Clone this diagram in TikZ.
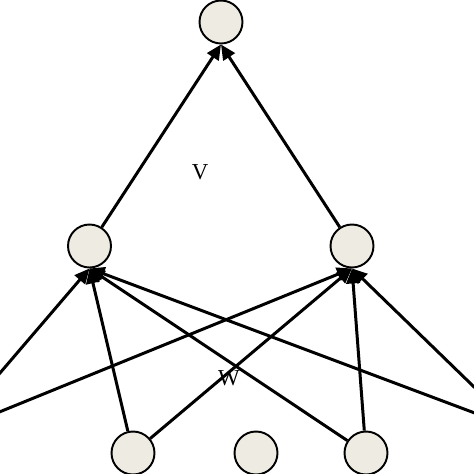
\documentclass[tikz,border=0pt]{standalone}
\usepackage{fontspec}
\setmainfont{Liberation Serif}
\usetikzlibrary{arrows.meta}
\definecolor{cellfill}{RGB}{238,236,226}
\tikzset{
  neuron/.style={circle, draw=black, line width=1.1pt, fill=cellfill, minimum size=0.86cm, inner sep=0pt},
  link/.style={line width=1.7pt, -{Triangle[length=0.3cm,width=0.27cm]}}
}
\begin{document}
\begin{tikzpicture}[x=0.02cm, y=-0.02cm]
   \useasboundingbox (0,0) rectangle (474,474);
   \clip (0,0) rectangle (474,474);

   % nodes
   \node[neuron] (out) at (221,22) {};
   \node[neuron] (h1) at (89.5,246) {};
   \node[neuron] (h2) at (352,246) {};
   \node[neuron] (x1) at (133,453) {};
   \node[neuron] (x2) at (256,453) {};
   \node[neuron] (x3) at (366,453) {};

   % inputs from outside the cut
   \coordinate (la) at (-30,408);
   \coordinate (lb) at (-40,428);
   \coordinate (ra) at (504,416);
   \coordinate (rb) at (504,424);

   % hidden to output
   \draw[link] (h1) -- (out.south);
   \draw[link] (h2) -- (out.south);

   % input to hidden
   \draw[link] (la) -- (h1.south);
   \draw[link] (x1) -- (h1.south);
   \draw[link] (x3) -- (h1.south);
   \draw[link] (rb) -- (h1.south);

   \draw[link] (lb) -- (h2.south);
   \draw[link] (x1) -- (h2.south);
   \draw[link] (x3) -- (h2.south);
   \draw[link] (ra) -- (h2.south);

   \node[font=\fontsize{13}{15}\selectfont] (v) at (200,172) {V};
   \node[font=\fontsize{13}{15}\selectfont] (w) at (229,378) {W};
\end{tikzpicture}
\end{document}
